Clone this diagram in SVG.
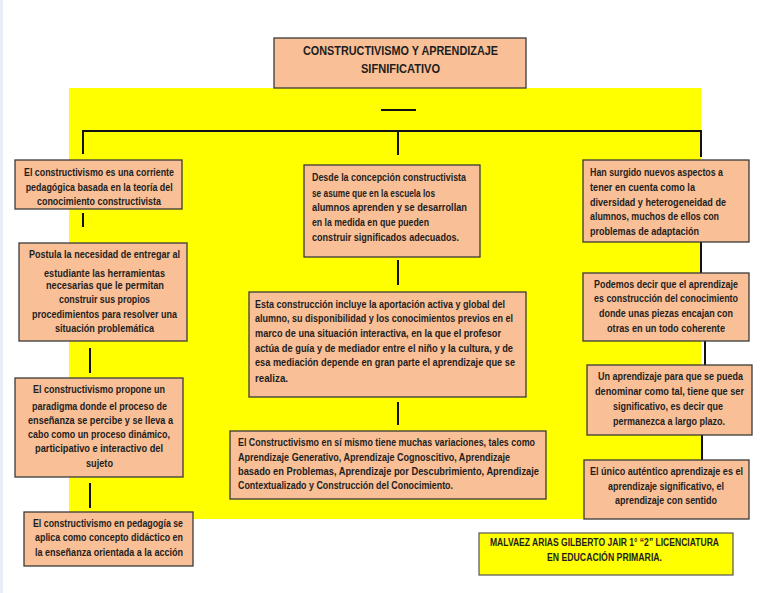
<svg xmlns="http://www.w3.org/2000/svg" width="768" height="593" viewBox="0 0 768 593">
<style>
.box{fill:#F9BF96;stroke:#3a3a3a;stroke-width:1.3}
.t{font-family:"Liberation Sans",Arial,sans-serif;font-size:10.5px;font-weight:bold;fill:#1e1e1e}
.ti{font-family:"Liberation Sans",Arial,sans-serif;font-size:12px;font-weight:bold;fill:#1e1e1e}
.ft{font-family:"Liberation Sans",Arial,sans-serif;font-size:10px;font-weight:bold;fill:#1e1e1e}
.c{fill:none;stroke:#111;stroke-width:2}
</style>
<rect width="768" height="593" fill="#ffffff"/>
<rect x="0" y="0" width="3" height="593" fill="#e9edf8"/>
<rect id="fondo" x="69" y="88" width="632" height="431" fill="#FFFF00"/>
<g id="connectors">
<path class="c" d="M381,110 H416" stroke-width="2.5"/>
<path class="c" d="M83,154 V131 H701 V157"/>
<path class="c" d="M398,131 V155"/>
<path class="c" d="M83,213 V227" stroke-width="2.5"/>
<path class="c" d="M90,348 V373" stroke-width="1.3"/>
<path class="c" d="M90,483 V508"/>
<path class="c" d="M398,260 V285"/>
<path class="c" d="M398,402 V425"/>
<path class="c" d="M701,242 V273"/>
<path class="c" d="M705,341 V365"/>
<path class="c" d="M702,435 V460"/>
</g>
<g id="title">
<rect class="box" x="274" y="38" width="252" height="50"/>
<text class="ti" x="303" y="54.5" textLength="195" lengthAdjust="spacingAndGlyphs">CONSTRUCTIVISMO Y APRENDIZAJE</text>
<text class="ti" x="361" y="72.5" textLength="79" lengthAdjust="spacingAndGlyphs">SIFNIFICATIVO</text>
</g>
<g id="L1">
<rect class="box" x="15" y="160" width="167" height="49"/>
<text class="t" x="24" y="176" textLength="150" lengthAdjust="spacingAndGlyphs">El constructivismo es una corriente</text>
<text class="t" x="25.7" y="190.5" textLength="147" lengthAdjust="spacingAndGlyphs">pedagógica basada en la teoría del</text>
<text class="t" x="37" y="205" textLength="124" lengthAdjust="spacingAndGlyphs">conocimiento constructivista</text>
</g>
<g id="L2">
<rect class="box" x="19" y="243" width="168" height="98"/>
<text class="t" x="29" y="257.5" textLength="151" lengthAdjust="spacingAndGlyphs">Postula la necesidad de entregar al</text>
<text class="t" x="44" y="276.5" textLength="121" lengthAdjust="spacingAndGlyphs">estudiante las herramientas</text>
<text class="t" x="46" y="288.5" textLength="118" lengthAdjust="spacingAndGlyphs">necesarias que le permitan</text>
<text class="t" x="59" y="302.5" textLength="91" lengthAdjust="spacingAndGlyphs">construir sus propios</text>
<text class="t" x="32" y="317.5" textLength="145" lengthAdjust="spacingAndGlyphs">procedimientos para resolver una</text>
<text class="t" x="55" y="331.5" textLength="99" lengthAdjust="spacingAndGlyphs">situación problemática</text>
</g>
<g id="L3">
<rect class="box" x="15" y="378" width="168" height="99"/>
<text class="t" x="33" y="392.5" textLength="132" lengthAdjust="spacingAndGlyphs">El constructivismo propone un</text>
<text class="t" x="32" y="409.5" textLength="135" lengthAdjust="spacingAndGlyphs">paradigma donde el proceso de</text>
<text class="t" x="28" y="423.5" textLength="145" lengthAdjust="spacingAndGlyphs">enseñanza se percibe y se lleva a</text>
<text class="t" x="28" y="437.5" textLength="142" lengthAdjust="spacingAndGlyphs">cabo como un proceso dinámico,</text>
<text class="t" x="35" y="451.5" textLength="128" lengthAdjust="spacingAndGlyphs">participativo e interactivo del</text>
<text class="t" x="86" y="466.5" textLength="27" lengthAdjust="spacingAndGlyphs">sujeto</text>
</g>
<g id="L4">
<rect class="box" x="24" y="512" width="169" height="54"/>
<text class="t" x="33" y="526.5" textLength="150" lengthAdjust="spacingAndGlyphs">El constructivismo en pedagogía se</text>
<text class="t" x="35" y="540.5" textLength="148" lengthAdjust="spacingAndGlyphs">aplica como concepto didáctico en</text>
<text class="t" x="35" y="555.5" textLength="148" lengthAdjust="spacingAndGlyphs">la enseñanza orientada a la acción</text>
</g>
<g id="M1">
<rect class="box" x="304" y="165" width="176" height="92"/>
<text class="t" x="312" y="180.5" textLength="154" lengthAdjust="spacingAndGlyphs">Desde la concepción constructivista</text>
<text class="t" x="312" y="196.5" textLength="123" lengthAdjust="spacingAndGlyphs">se asume que en la escuela los</text>
<text class="t" x="312" y="210.5" textLength="155" lengthAdjust="spacingAndGlyphs">alumnos  aprenden y se desarrollan</text>
<text class="t" x="312" y="225.5" textLength="117" lengthAdjust="spacingAndGlyphs">en la medida en que pueden</text>
<text class="t" x="312" y="240.5" textLength="147" lengthAdjust="spacingAndGlyphs">construir significados adecuados.</text>
</g>
<g id="M2">
<rect class="box" x="249" y="292" width="277" height="105"/>
<text class="t" x="255" y="307.5" textLength="250" lengthAdjust="spacingAndGlyphs">Esta construcción incluye la aportación activa y global del</text>
<text class="t" x="255" y="321.5" textLength="258" lengthAdjust="spacingAndGlyphs">alumno, su disponibilidad y los conocimientos previos en el</text>
<text class="t" x="255" y="336.5" textLength="246" lengthAdjust="spacingAndGlyphs">marco de una situación interactiva, en la que el profesor</text>
<text class="t" x="255" y="351.5" textLength="258" lengthAdjust="spacingAndGlyphs">actúa de guía y de mediador entre el niño y la cultura, y de</text>
<text class="t" x="255" y="365.5" textLength="260" lengthAdjust="spacingAndGlyphs">esa mediación depende en gran parte el aprendizaje que se</text>
<text class="t" x="255" y="381.5" textLength="33" lengthAdjust="spacingAndGlyphs">realiza.</text>
</g>
<g id="M3">
<rect class="box" x="230" y="431" width="316" height="68"/>
<text class="t" x="238" y="445.5" textLength="297" lengthAdjust="spacingAndGlyphs">El Constructivismo en sí mismo tiene muchas variaciones, tales como</text>
<text class="t" x="238" y="460.5" textLength="272" lengthAdjust="spacingAndGlyphs">Aprendizaje Generativo, Aprendizaje Cognoscitivo, Aprendizaje</text>
<text class="t" x="238" y="474.5" textLength="301" lengthAdjust="spacingAndGlyphs">basado en Problemas, Aprendizaje por Descubrimiento, Aprendizaje</text>
<text class="t" x="238" y="488.5" textLength="215" lengthAdjust="spacingAndGlyphs">Contextualizado y Construcción del Conocimiento.</text>
</g>
<g id="R1">
<rect class="box" x="583" y="160" width="166" height="82"/>
<text class="t" x="590" y="175.5" textLength="133" lengthAdjust="spacingAndGlyphs">Han surgido nuevos aspectos a</text>
<text class="t" x="590" y="190.5" textLength="105" lengthAdjust="spacingAndGlyphs">tener en cuenta como la</text>
<text class="t" x="590" y="205.5" textLength="136" lengthAdjust="spacingAndGlyphs">diversidad y heterogeneidad de</text>
<text class="t" x="590" y="219.5" textLength="129" lengthAdjust="spacingAndGlyphs">alumnos, muchos de ellos con</text>
<text class="t" x="590" y="234.5" textLength="109" lengthAdjust="spacingAndGlyphs">problemas de adaptación</text>
</g>
<g id="R2">
<rect class="box" x="583" y="273" width="166" height="68"/>
<text class="t" x="594" y="287.5" textLength="144" lengthAdjust="spacingAndGlyphs">Podemos decir que el aprendizaje</text>
<text class="t" x="594" y="301.5" textLength="144" lengthAdjust="spacingAndGlyphs">es construcción del conocimiento</text>
<text class="t" x="599" y="316.5" textLength="134" lengthAdjust="spacingAndGlyphs">donde unas piezas encajan con</text>
<text class="t" x="607" y="331.5" textLength="118" lengthAdjust="spacingAndGlyphs">otras en un todo coherente</text>
</g>
<g id="R3">
<rect class="box" x="587" y="365" width="165" height="70"/>
<text class="t" x="598" y="379.5" textLength="145" lengthAdjust="spacingAndGlyphs">Un aprendizaje para que se pueda</text>
<text class="t" x="595" y="394.5" textLength="149" lengthAdjust="spacingAndGlyphs">denominar como tal, tiene que ser</text>
<text class="t" x="613" y="409.5" textLength="110" lengthAdjust="spacingAndGlyphs">significativo, es decir que</text>
<text class="t" x="613" y="424.5" textLength="112" lengthAdjust="spacingAndGlyphs">permanezca a largo plazo.</text>
</g>
<g id="R4">
<rect class="box" x="584" y="460" width="165" height="59"/>
<text class="t" x="590" y="474.5" textLength="153" lengthAdjust="spacingAndGlyphs">El único auténtico aprendizaje es el</text>
<text class="t" x="608" y="489.5" textLength="116" lengthAdjust="spacingAndGlyphs">aprendizaje significativo, el</text>
<text class="t" x="615" y="503.5" textLength="102" lengthAdjust="spacingAndGlyphs">aprendizaje con sentido</text>
</g>
<g id="footer">
<rect x="479" y="533" width="254" height="42" fill="#FFFF00" stroke="#555" stroke-width="1.2"/>
<text class="ft" x="490" y="545.5" textLength="229" lengthAdjust="spacingAndGlyphs">MALVAEZ ARIAS GILBERTO JAIR 1° “2” LICENCIATURA</text>
<text class="ft" x="547" y="560.5" textLength="115" lengthAdjust="spacingAndGlyphs">EN EDUCACIÓN PRIMARIA.</text>
</g>
</svg>
